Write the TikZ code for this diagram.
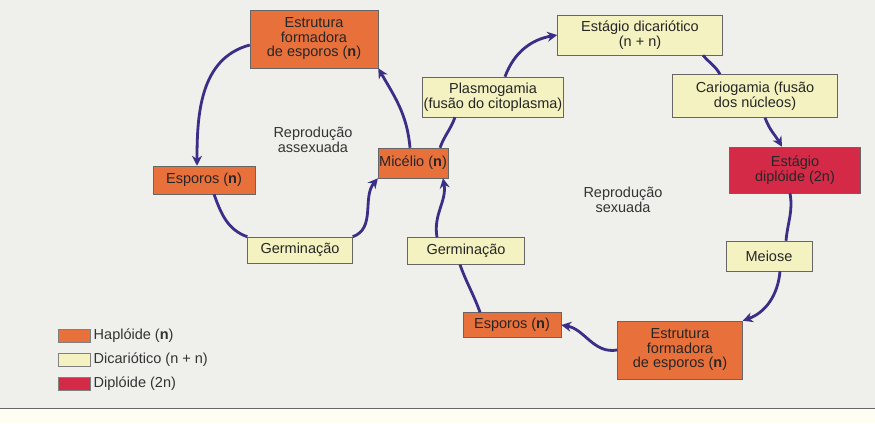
\documentclass[tikz,border=0pt]{standalone}
\usepackage{fontspec}
\setmainfont{Liberation Sans}
\usetikzlibrary{arrows.meta}
\definecolor{hap}{HTML}{E8703A}
\definecolor{dic}{HTML}{F4F2C0}
\definecolor{dip}{HTML}{D42A48}
\definecolor{arr}{HTML}{3A2E86}
\definecolor{bg}{HTML}{EFEFEC}
\tikzset{
 box/.style={draw=black!60,line width=0.5pt,align=center,inner sep=1pt,font=\fontsize{14.5}{14.5}\selectfont,text=black!85},
 hapb/.style={box,fill=hap},
 dicb/.style={box,fill=dic},
 dipb/.style={box,fill=dip},
 cyc/.style={draw=arr,line width=2.8pt},
 cyca/.style={cyc,-{Stealth[length=10pt,width=10pt]}},
 lbl/.style={align=center,font=\fontsize{14.5}{15}\selectfont,text=black!80},
 sw/.style={draw=black!50,line width=0.4pt,minimum width=32pt,minimum height=13pt,inner sep=0pt}
}
\begin{document}
\begin{tikzpicture}[x=1pt,y=-1pt]
\useasboundingbox (0,0) rectangle (875,423);
\fill[bg] (0,0) rectangle (875,408);
\draw[black!60,line width=0.8pt] (0,408) -- (875,408);
\fill[white!95!yellow] (0,409) rectangle (875,423);
\node[hapb,minimum width=128pt,minimum height=58pt] (e1) at (314,39) {Estrutura\\formadora\\de esporos (\textbf{n})};
\node[hapb,minimum width=102pt,minimum height=28pt] (s1) at (204,180) {Esporos (\textbf{n})};
\node[dicb,minimum width=105pt,minimum height=26pt] (g1) at (300,250) {Germinação};
\node[hapb,minimum width=68pt,minimum height=30pt] (m) at (413,163) {Micélio (\textbf{n})};
\node[dicb,minimum width=133pt,minimum height=40pt] (p) at (493,97) {Plasmogamia\\(fusão do citoplasma)};
\node[dicb,minimum width=165pt,minimum height=40pt] (d) at (640,35) {Estágio dicariótico\\(n + n)};
\node[dicb,minimum width=165pt,minimum height=43pt] (c) at (755,96) {Cariogamia (fusão\\dos núcleos)};
\node[dipb,minimum width=131pt,minimum height=46pt] (di) at (795,170) {Estágio\\diplóide (2n)};
\node[dicb,minimum width=86pt,minimum height=30pt] (me) at (769,256) {Meiose};
\node[hapb,minimum width=125pt,minimum height=58pt] (e2) at (680,350) {Estrutura\\formadora\\de esporos (\textbf{n})};
\node[hapb,minimum width=98pt,minimum height=25pt] (s2) at (512,325) {Esporos (\textbf{n})};
\node[dicb,minimum width=117pt,minimum height=27pt] (g2) at (466,251) {Germinação};
\node[lbl] (ra) at (313,140) {Reprodução\\assexuada};
\node[lbl] (rs) at (623,200) {Reprodução\\sexuada};
% left cycle
\draw[cyca] (e1.west|-0,45) to[out=195,in=90] (s1.north -| 197,0);
\draw[cyc] (s1.south -| 214,0) to[out=-70,in=160] (g1.north west);
\draw[cyca] (g1.north east) to[out=20,in=-130] (m.south west);
\draw[cyca] (m.north -| 410,0) to[out=95,in=-60] (e1.south east);
% right cycle
\draw[cyc] (m.north -| 440,0) to[out=70,in=-110] (p.south -| 455,0);
\draw[cyca] (p.north -| 505,0) to[out=70,in=190] (d.west);
\draw[cyc] (d.south -| 703,0) to[out=-50,in=120] (c.north -| 720,0);
\draw[cyca] (c.south -| 765,0) to[out=-70,in=120] (di.north -| 782,0);
\draw[cyc] (di.south -| 790,0) to[out=-80,in=85] (me.north -| 786,0);
\draw[cyca] (me.south -| 780,0) to[out=-95,in=20] (e2.north east);
\draw[cyca] (e2.west) to[out=190,in=-10] (s2.east);
\draw[cyc] (s2.north -| 480,0) to[out=110,in=-70] (g2.south -| 460,0);
\draw[cyca] (g2.north -| 437,0) to[out=100,in=-80] (m.south -| 443,0);
% legend
\node[sw,fill=hap] (l1) at (74,336) {};
\node[sw,fill=dic] (l2) at (74,360) {};
\node[sw,fill=dip] (l3) at (74,384) {};
\node[lbl,anchor=west] at (l1.east) {Haplóide (\textbf{n})};
\node[lbl,anchor=west] at (l2.east) {Dicariótico (n + n)};
\node[lbl,anchor=west] at (l3.east) {Diplóide (2n)};
\end{tikzpicture}
\end{document}
